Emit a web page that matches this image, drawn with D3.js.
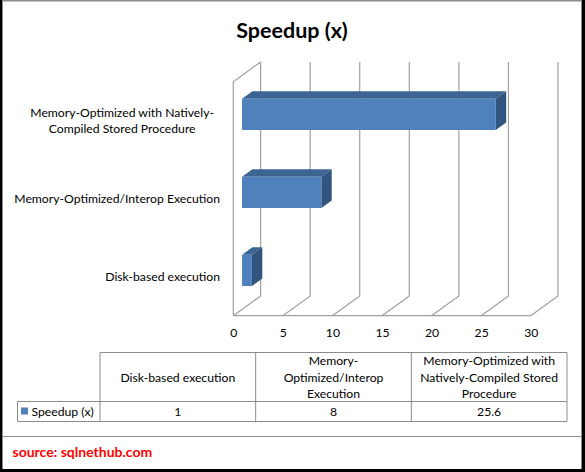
<!DOCTYPE html>
<html>
<head>
<meta charset="utf-8">
<script src="https://cdn.jsdelivr.net/npm/d3@7"></script>
<style>
  body { margin: 0; background: #fff; }
  svg { display: block; }
  text { font-family: Lato, "Open Sans", sans-serif; fill: #000; }
</style>
</head>
<body>
<svg id="chart" width="585" height="472"></svg>
<script>
// ---------- data ----------
const title = "Speedup (x)";
const seriesName = "Speedup (x)";
const categories = ["Disk-based execution", "Memory-Optimized/Interop Execution", "Memory-Optimized with Natively-Compiled Stored Procedure"];
const values = [1, 8, 25.6];
const valueLabels = ["1", "8", "25.6"];
const axisLabelLines = [["Disk-based execution"], ["Memory-Optimized/Interop Execution"], ["Memory-Optimized with Natively-", "Compiled Stored Procedure"]];
const tableHeaderLines = [["Disk-based execution"], ["Memory-", "Optimized/Interop", "Execution"], ["Memory-Optimized with", "Natively-Compiled Stored", "Procedure"]];
const xTicks = [0, 5, 10, 15, 20, 25, 30];
const sourceText = "source: sqlnethub.com";

// ---------- layout ----------
const svg = d3.select("#chart");
const FS = 12.2;
const gridColor = "#a0a0a0";
const colFront = "#4f81bd", colTop = "#3c6594", colSide = "#32557f";

// frame
svg.append("rect").attr("x", 0).attr("y", 0).attr("width", 585).attr("height", 472).attr("fill", "#000");
svg.append("rect").attr("x", 2).attr("y", 0).attr("width", 580).attr("height", 469).attr("fill", "#8c8c8c");
svg.append("rect").attr("x", 3).attr("y", 1.5).attr("width", 578).attr("height", 467.5).attr("fill", "#fff");
svg.append("line").attr("x1", 3).attr("x2", 581).attr("y1", 436.5).attr("y2", 436.5)
  .attr("stroke", "#8c8c8c").attr("stroke-width", 1);

// title
svg.append("text").attr("x", 292).attr("y", 38).attr("text-anchor", "middle")
  .style("font-size", "21.5px").style("font-weight", "bold").text(title);

// 3D plot geometry
const front = { left: 233.3, right: 530.7, top: 81.7, bottom: 315.7 };
const depth = { dx: 27.3, dy: -19.7 };
const barDepth0 = 0.32, barDepth1 = 0.70;

const x = d3.scaleLinear().domain([0, 30]).range([front.left, front.right]);
const y = d3.scaleBand().domain(categories).range([front.bottom, front.top])
  .paddingInner(0.6).paddingOuter(0.3);

const g = svg.append("g");

// left wall outline
g.append("path")
  .attr("d", `M${front.left},${front.bottom} L${front.left},${front.top} L${front.left + depth.dx},${front.top + depth.dy}`)
  .attr("fill", "none").attr("stroke", gridColor).attr("stroke-width", 1.2);

// back wall gridlines and floor diagonals
xTicks.forEach(t => {
  const fx = x(t);
  g.append("line")
    .attr("x1", fx + depth.dx).attr("x2", fx + depth.dx)
    .attr("y1", front.top + depth.dy).attr("y2", front.bottom + depth.dy)
    .attr("stroke", gridColor).attr("stroke-width", 1.2);
  g.append("line")
    .attr("x1", fx).attr("x2", fx + depth.dx)
    .attr("y1", front.bottom).attr("y2", front.bottom + depth.dy)
    .attr("stroke", gridColor).attr("stroke-width", 1.2);
});
// floor front edge
g.append("line").attr("x1", front.left).attr("x2", front.right)
  .attr("y1", front.bottom).attr("y2", front.bottom)
  .attr("stroke", gridColor).attr("stroke-width", 1.2);

// bars
const ox = barDepth0 * depth.dx, oy = barDepth0 * depth.dy;
const bdx = (barDepth1 - barDepth0) * depth.dx, bdy = (barDepth1 - barDepth0) * depth.dy;
categories.forEach((c, i) => {
  const x0 = x(0) + ox, x1 = x(values[i]) + ox;
  const y0 = y(c) + oy, y1 = y(c) + y.bandwidth() + oy;
  const bar = g.append("g");
  bar.append("path")
    .attr("d", `M${x0},${y0} L${x1},${y0} L${x1 + bdx},${y0 + bdy} L${x0 + bdx},${y0 + bdy} Z`)
    .attr("fill", colTop);
  bar.append("path")
    .attr("d", `M${x1},${y0} L${x1 + bdx},${y0 + bdy} L${x1 + bdx},${y1 + bdy} L${x1},${y1} Z`)
    .attr("fill", colSide);
  bar.append("rect").attr("x", x0).attr("y", y0).attr("width", x1 - x0).attr("height", y1 - y0)
    .attr("fill", colFront);
});

// x axis tick labels
const xAxis = d3.axisBottom(x).tickValues(xTicks).tickSize(0).tickPadding(0).tickFormat(d3.format("d"));
const xa = svg.append("g").attr("transform", `translate(0,${front.bottom})`).call(xAxis);
xa.select(".domain").remove();
xa.selectAll("text").attr("y", 21).attr("dy", 0).style("font-size", FS + "px")
  .style("font-family", "Lato, sans-serif").attr("fill", "#000");

// category labels (aligned to front plane bands)
const lineH = 15.7;
categories.forEach((c, i) => {
  const cy = y(c) + y.bandwidth() / 2;
  const lines = axisLabelLines[i];
  const t = svg.append("text").style("font-size", FS + "px");
  lines.forEach((ln, k) => {
    t.append("tspan").attr("y", cy + (k - (lines.length - 1) / 2) * lineH + 4.5).text(ln);
  });
  if (lines.length === 1) {
    t.attr("text-anchor", "end").selectAll("tspan").attr("x", 220);
  } else {
    let maxW = 0;
    t.selectAll("tspan").each(function () { maxW = Math.max(maxW, this.getComputedTextLength()); });
    t.attr("text-anchor", "middle").selectAll("tspan").attr("x", 214 - maxW / 2);
  }
});

// data table
const col = d3.scaleBand().domain(categories).range([100, 567]);
const tTop = 352.5, tMid = 401.5, tBot = 421.5, legendLeft = 17.5;
const tg = svg.append("g").attr("stroke", "#8c8c8c").attr("stroke-width", 1);
tg.append("line").attr("x1", 100).attr("x2", 567).attr("y1", tTop).attr("y2", tTop);
tg.append("line").attr("x1", legendLeft).attr("x2", 567).attr("y1", tMid).attr("y2", tMid);
tg.append("line").attr("x1", legendLeft).attr("x2", 567).attr("y1", tBot).attr("y2", tBot);
tg.append("line").attr("x1", legendLeft).attr("x2", legendLeft).attr("y1", tMid).attr("y2", tBot);
categories.forEach(c => {
  tg.append("line").attr("x1", col(c)).attr("x2", col(c)).attr("y1", tTop).attr("y2", tBot);
});
tg.append("line").attr("x1", 567).attr("x2", 567).attr("y1", tTop).attr("y2", tBot);

const hcy = (tTop + tMid) / 2;
categories.forEach((c, i) => {
  const lines = tableHeaderLines[i];
  const t = svg.append("text").attr("text-anchor", "middle").style("font-size", FS + "px");
  lines.forEach((ln, k) => {
    t.append("tspan").attr("x", col(c) + col.bandwidth() / 2)
      .attr("y", hcy + (k - (lines.length - 1) / 2) * 16.3 + 4.5).text(ln);
  });
  svg.append("text").attr("text-anchor", "middle").style("font-size", FS + "px")
    .attr("x", col(c) + col.bandwidth() / 2).attr("y", (tMid + tBot) / 2 + 4.5).text(valueLabels[i]);
});

// legend key
svg.append("rect").attr("x", 21).attr("y", 407.5).attr("width", 7).attr("height", 7).attr("fill", colFront);
svg.append("text").attr("x", 31.5).attr("y", (tMid + tBot) / 2 + 4.5).style("font-size", FS + "px").text(seriesName);

// source
svg.append("text").attr("x", 12.5).attr("y", 457).style("font-size", "14px").style("font-weight", "bold")
  .style("fill", "#ff0000").text(sourceText);
</script>
</body>
</html>
